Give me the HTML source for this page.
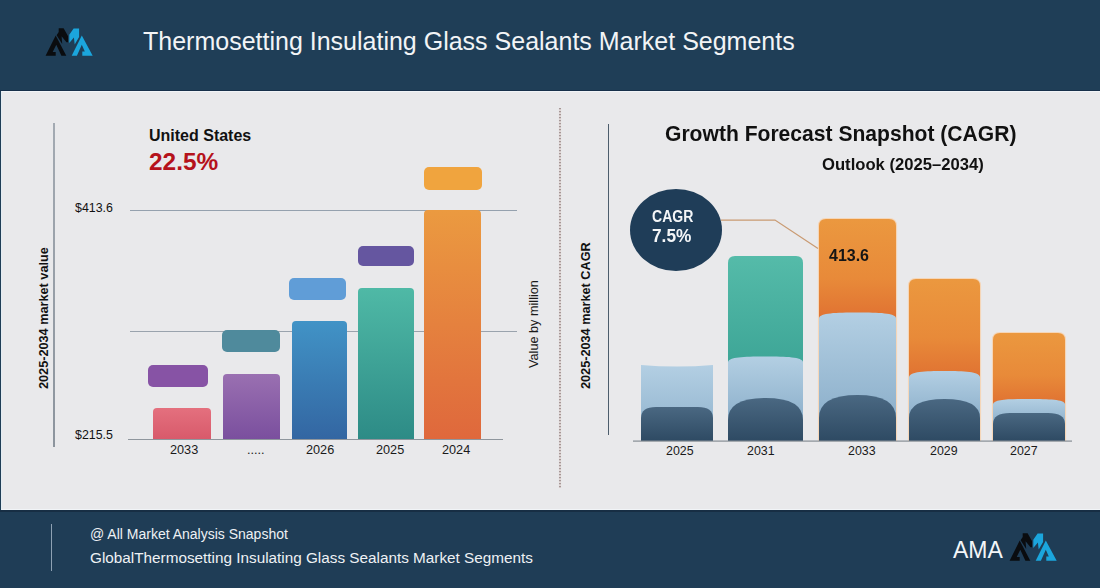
<!DOCTYPE html>
<html><head><meta charset="utf-8">
<style>
*{margin:0;padding:0;box-sizing:border-box}
html,body{width:1100px;height:588px;overflow:hidden;background:#1f3d56;font-family:"Liberation Sans",sans-serif}
.abs{position:absolute}
#hdr{left:0;top:0;width:1100px;height:91px;background:#1f3e57}
#panel{left:1px;top:91px;width:1099px;height:419px;background:#e9e9eb;border-top:1px solid #f1f4f7;border-left:1.5px solid #e4edf3;border-bottom:1px solid #f1f4f7}
#ftr{left:0;top:510px;width:1100px;height:78px;background:#1f3d56}
.t{position:absolute;white-space:nowrap;line-height:1;transform-origin:0 0}
.bar{position:absolute;border-radius:4px 4px 0 0}
.lbl{position:absolute;border-radius:5px;filter:blur(0.7px)}
.hl{position:absolute;height:1px;background:#9aa3ad}
.rot{position:absolute;white-space:nowrap;line-height:1;transform-origin:0 0}
</style></head>
<body>
<div id="hdr" class="abs"></div>
<div class="abs" style="left:0;top:90px;width:1100px;height:1px;background:#17304a"></div>
<div id="panel" class="abs"></div>
<div class="abs" style="left:0;top:510px;width:1100px;height:1.5px;background:#172e44"></div>
<div id="ftr" class="abs" style="top:511.5px"></div>

<!-- header logo -->
<svg class="abs" style="left:44px;top:26px" width="52" height="32" viewBox="0 0 52 32">
  <path fill="#0a0c0f" d="M1.6,29.7 L11.7,9.5 L22.3,29.7 L17.4,29.7 L12.3,18.8 L8.7,26.1 L11.7,26.1 L11.7,29.7 Z"/>
  <path fill="#0a0c0f" d="M14.7,2.2 L19.6,2.2 L24,9.9 L24,16.3 L22.5,16.3 L17.6,10.2 L18.2,17.9 L12.6,9.2 L14.7,6 Z"/>
  
  <path fill="#1ba6dd" d="M29.6,2.4 L35.1,2.4 L35.1,10.9 L30.7,18.5 L29.9,11.4 L25.3,16.9 L25.3,8.7 Z"/>
  <path fill="#1ba6dd" d="M27.7,29.7 L37.8,9.5 L48.7,29.7 L38.3,29.7 L38.3,25.6 L40.8,25.6 L37.8,18.8 L32.9,29.7 Z"/>
</svg>
<div class="t" style="left:143px;top:28.5px;font-size:25px;color:#f2f4f6">Thermosetting Insulating Glass Sealants Market Segments</div>

<!-- LEFT CHART -->
<div class="abs" style="left:53px;top:123px;width:2px;height:324px;background:linear-gradient(#a3aab2,#8c949d)"></div>
<div class="rot" style="left:38px;top:389px;font-size:12.7px;font-weight:700;color:#111;transform:rotate(-90deg)">2025-2034 market value</div>
<div class="t" style="left:149px;top:128px;font-size:16px;font-weight:700;color:#111">United States</div>
<div class="t" style="left:149px;top:150px;font-size:24.4px;font-weight:700;color:#b5121b">22.5%</div>
<div class="t" style="left:75px;top:202px;font-size:12.4px;color:#111">$413.6</div>
<div class="t" style="left:75px;top:429px;font-size:12.4px;color:#111">$215.5</div>
<div class="hl" style="left:130px;top:210px;width:387px;background:#95a1ae"></div>
<div class="hl" style="left:130px;top:331px;width:387px"></div>

<div class="lbl" style="left:148px;top:365px;width:60px;height:22px;background:#8753a5"></div>
<div class="lbl" style="left:222px;top:330px;width:58px;height:22px;background:#4f8a9c"></div>
<div class="lbl" style="left:289px;top:278px;width:57px;height:22px;background:#609dd7"></div>
<div class="lbl" style="left:358px;top:246px;width:56px;height:20px;background:#6556a0"></div>
<div class="lbl" style="left:424px;top:167px;width:58px;height:23px;background:#f0a43e"></div>

<div class="bar" style="left:153px;top:408px;width:58px;height:31px;background:linear-gradient(#e4707e,#d85a6b)"></div>
<div class="bar" style="left:223px;top:374px;width:57px;height:65px;background:linear-gradient(#9a70b1,#7a4f9e)"></div>
<div class="bar" style="left:292px;top:321px;width:55px;height:118px;background:linear-gradient(#4193c6,#3366a2)"></div>
<div class="bar" style="left:358px;top:288px;width:56px;height:151px;background:linear-gradient(#4fb9a6,#2d8b86)"></div>
<div class="bar" style="left:424px;top:210px;width:57px;height:229px;background:linear-gradient(#eb9a40,#df683c)"></div>
<div class="hl" style="left:128px;top:438.5px;width:375px;background:#8f969d"></div>

<div class="t" style="left:170px;top:444px;font-size:12.7px;color:#1a1a1a">2033</div>
<div class="t" style="left:247px;top:444px;font-size:12.7px;color:#1a1a1a">.....</div>
<div class="t" style="left:306px;top:444px;font-size:12.7px;color:#1a1a1a">2026</div>
<div class="t" style="left:376px;top:444px;font-size:12.7px;color:#1a1a1a">2025</div>
<div class="t" style="left:442px;top:444px;font-size:12.7px;color:#1a1a1a">2024</div>
<div class="rot" style="left:528px;top:368px;font-size:12.7px;color:#1a1a1a;transform:rotate(-90deg)">Value by million</div>

<!-- divider -->
<svg class="abs" style="left:556px;top:106px" width="8" height="384"><line x1="4" y1="2" x2="4" y2="382" stroke="#e2d9d8" stroke-width="2.2"/><line x1="4" y1="2" x2="4" y2="382" stroke="#736262" stroke-width="1.1" stroke-dasharray="1.3 1.7"/></svg>

<!-- RIGHT CHART -->
<div class="abs" style="left:607.5px;top:124px;width:1.5px;height:311px;background:#4d5d6c"></div>
<div class="rot" style="left:580px;top:389px;font-size:12.7px;font-weight:700;color:#111;transform:rotate(-90deg)">2025-2034 market CAGR</div>
<div class="t" style="left:665px;top:122px;font-size:22.8px;font-weight:700;color:#111;transform:scaleX(0.925)">Growth Forecast Snapshot (CAGR)</div>
<div class="t" style="left:822px;top:156px;font-size:17.4px;font-weight:700;color:#111;transform:scaleX(0.957)">Outlook (2025–2034)</div>

<svg class="abs" style="left:0;top:0" width="1100" height="588">
  <defs>
    <linearGradient id="lb0" gradientUnits="userSpaceOnUse" x1="0" y1="365" x2="0" y2="441"><stop offset="0" stop-color="#b3cfe3"/><stop offset="1" stop-color="#8eb1cc"/></linearGradient>
    <linearGradient id="dk0" gradientUnits="userSpaceOnUse" x1="0" y1="407" x2="0" y2="441"><stop offset="0" stop-color="#4a6882"/><stop offset="1" stop-color="#2e4a63"/></linearGradient>
    <linearGradient id="tp1" gradientUnits="userSpaceOnUse" x1="0" y1="256" x2="0" y2="362"><stop offset="0" stop-color="#55bba9"/><stop offset="1" stop-color="#3ea697"/></linearGradient>
    <linearGradient id="lb1" gradientUnits="userSpaceOnUse" x1="0" y1="356.5" x2="0" y2="420"><stop offset="0" stop-color="#b3cfe3"/><stop offset="1" stop-color="#8db0cb"/></linearGradient>
    <linearGradient id="dk1" gradientUnits="userSpaceOnUse" x1="0" y1="398" x2="0" y2="441"><stop offset="0" stop-color="#4a6882"/><stop offset="1" stop-color="#2e4a63"/></linearGradient>
    <linearGradient id="tp2" gradientUnits="userSpaceOnUse" x1="0" y1="219" x2="0" y2="318"><stop offset="0" stop-color="#eb983f"/><stop offset="0.6" stop-color="#e88a39"/><stop offset="1" stop-color="#e07232"/></linearGradient>
    <linearGradient id="lb2" gradientUnits="userSpaceOnUse" x1="0" y1="312.5" x2="0" y2="418"><stop offset="0" stop-color="#b3cfe3"/><stop offset="1" stop-color="#8db0cb"/></linearGradient>
    <linearGradient id="dk2" gradientUnits="userSpaceOnUse" x1="0" y1="395" x2="0" y2="441"><stop offset="0" stop-color="#4a6882"/><stop offset="1" stop-color="#2e4a63"/></linearGradient>
    <linearGradient id="tp3" gradientUnits="userSpaceOnUse" x1="0" y1="279" x2="0" y2="377"><stop offset="0" stop-color="#eb983f"/><stop offset="0.6" stop-color="#e88a39"/><stop offset="1" stop-color="#e07232"/></linearGradient>
    <linearGradient id="lb3" gradientUnits="userSpaceOnUse" x1="0" y1="371" x2="0" y2="418"><stop offset="0" stop-color="#b3cfe3"/><stop offset="1" stop-color="#8db0cb"/></linearGradient>
    <linearGradient id="dk3" gradientUnits="userSpaceOnUse" x1="0" y1="399" x2="0" y2="441"><stop offset="0" stop-color="#4a6882"/><stop offset="1" stop-color="#2e4a63"/></linearGradient>
    <linearGradient id="tp4" gradientUnits="userSpaceOnUse" x1="0" y1="333" x2="0" y2="404"><stop offset="0" stop-color="#eb983f"/><stop offset="0.6" stop-color="#e88a39"/><stop offset="1" stop-color="#e07232"/></linearGradient>
    <linearGradient id="lb4" gradientUnits="userSpaceOnUse" x1="0" y1="399" x2="0" y2="424"><stop offset="0" stop-color="#b3cfe3"/><stop offset="1" stop-color="#8db0cb"/></linearGradient>
    <linearGradient id="dk4" gradientUnits="userSpaceOnUse" x1="0" y1="413" x2="0" y2="441"><stop offset="0" stop-color="#4a6882"/><stop offset="1" stop-color="#2e4a63"/></linearGradient>
  </defs>
  <path fill="url(#lb0)" d="M641,365 Q677.0,368 713,365 L713,441 L641,441 Z"/>
  <path fill="url(#dk0)" d="M641,441 L641,418 Q641,407 656,407 L698,407 Q713,407 713,418 L713,441 Z"/>
  <path fill="url(#tp1)" d="M728,441 L728,263 Q728,256 735,256 L796,256 Q803,256 803,263 L803,441 Z"/>
  <path fill="url(#lb1)" d="M728,441 L728,362 C729,357.0 744.5,356.5 765.5,356.5 C786.5,356.5 802,357.0 803,362 L803,441 Z"/>
  <path fill="url(#dk1)" d="M728,441 L728,420 Q728,398 765.5,398 Q803,398 803,420 L803,441 Z"/>
  <path fill="none" stroke="#f5d6b8" stroke-width="2.2" d="M819,441 L819,226 Q819,219 826,219 L889,219 Q896,219 896,226 L896,441"/>
  <path fill="url(#tp2)" d="M819,441 L819,226 Q819,219 826,219 L889,219 Q896,219 896,226 L896,441 Z"/>
  <path fill="url(#lb2)" d="M819,441 L819,318 C820,313.0 835.94,312.5 857.5,312.5 C879.06,312.5 895,313.0 896,318 L896,441 Z"/>
  <path fill="url(#dk2)" d="M819,441 L819,418 Q819,395 857.5,395 Q896,395 896,418 L896,441 Z"/>
  <path fill="none" stroke="#f5d6b8" stroke-width="2.2" d="M909,441 L909,286 Q909,279 916,279 L973,279 Q980,279 980,286 L980,441"/>
  <path fill="url(#tp3)" d="M909,441 L909,286 Q909,279 916,279 L973,279 Q980,279 980,286 L980,441 Z"/>
  <path fill="url(#lb3)" d="M909,441 L909,377 C910,371.5 924.62,371 944.5,371 C964.38,371 979,371.5 980,377 L980,441 Z"/>
  <path fill="url(#dk3)" d="M909,441 L909,418 Q909,399 944.5,399 Q980,399 980,418 L980,441 Z"/>
  <path fill="none" stroke="#f5d6b8" stroke-width="2.2" d="M993,441 L993,340 Q993,333 1000,333 L1058,333 Q1065,333 1065,340 L1065,441"/>
  <path fill="url(#tp4)" d="M993,441 L993,340 Q993,333 1000,333 L1058,333 Q1065,333 1065,340 L1065,441 Z"/>
  <path fill="url(#lb4)" d="M993,441 L993,404 C994,399.5 1008.84,399 1029.0,399 C1049.16,399 1064,399.5 1065,404 L1065,441 Z"/>
  <path fill="url(#dk4)" d="M993,441 L993,424 Q993,413 1010,413 L1048,413 Q1065,413 1065,424 L1065,441 Z"/>
  <rect x="633" y="440.5" width="439" height="1.2" fill="#868d95"/>
  <polyline points="721,220 775,220 818,248.5" fill="none" stroke="#c99a72" stroke-width="1.25"/>
  <ellipse cx="676" cy="230" rx="46" ry="41" fill="#1f3d58"/>
</svg>
<div class="t" style="left:652px;top:208.5px;font-size:15.6px;font-weight:700;color:#f4f6f8;transform:scaleX(0.9)">CAGR</div>
<div class="t" style="left:652px;top:227px;font-size:18.2px;font-weight:700;color:#f4f6f8;transform:scaleX(0.95)">7.5%</div>
<div class="t" style="left:829px;top:247px;font-size:17px;font-weight:700;color:#151515;transform:scaleX(0.94)">413.6</div>

<div class="t" style="left:666px;top:445px;font-size:12.4px;color:#1a1a1a">2025</div>
<div class="t" style="left:747px;top:445px;font-size:12.4px;color:#1a1a1a">2031</div>
<div class="t" style="left:848px;top:445px;font-size:12.4px;color:#1a1a1a">2033</div>
<div class="t" style="left:930px;top:445px;font-size:12.4px;color:#1a1a1a">2029</div>
<div class="t" style="left:1010px;top:445px;font-size:12.4px;color:#1a1a1a">2027</div>

<!-- FOOTER -->
<div class="abs" style="left:50.5px;top:524px;width:1.5px;height:47px;background:#8ea1b3"></div>
<div class="t" style="left:90px;top:527px;font-size:14px;color:#eef1f4">@ All Market Analysis Snapshot</div>
<div class="t" style="left:90px;top:550px;font-size:15.3px;color:#eef1f4">GlobalThermosetting Insulating Glass Sealants Market Segments</div>
<div class="t" style="left:953px;top:539px;font-size:23px;color:#f4f6f8">AMA</div>
<svg class="abs" style="left:1008.1px;top:531.1px" width="52" height="32" viewBox="0 0 52 32">
  <path fill="#0a0c0f" d="M1.6,29.7 L11.7,9.5 L22.3,29.7 L17.4,29.7 L12.3,18.8 L8.7,26.1 L11.7,26.1 L11.7,29.7 Z"/>
  <path fill="#0a0c0f" d="M14.7,2.2 L19.6,2.2 L24,9.9 L24,16.3 L22.5,16.3 L17.6,10.2 L18.2,17.9 L12.6,9.2 L14.7,6 Z"/>
  
  <path fill="#1ba6dd" d="M29.6,2.4 L35.1,2.4 L35.1,10.9 L30.7,18.5 L29.9,11.4 L25.3,16.9 L25.3,8.7 Z"/>
  <path fill="#1ba6dd" d="M27.7,29.7 L37.8,9.5 L48.7,29.7 L38.3,29.7 L38.3,25.6 L40.8,25.6 L37.8,18.8 L32.9,29.7 Z"/>
</svg>
</body></html>
